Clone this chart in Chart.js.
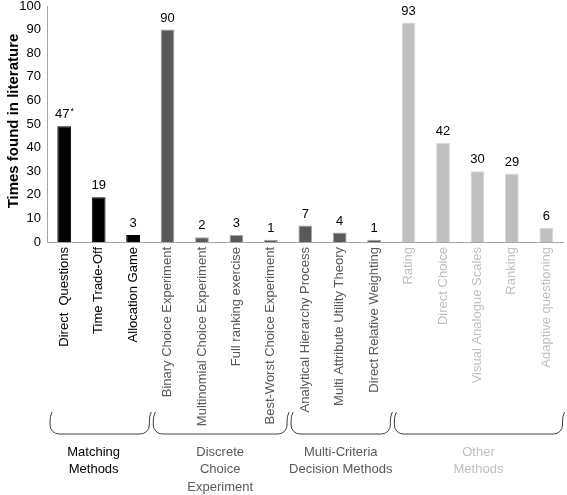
<!DOCTYPE html>
<html>
<head>
<meta charset="utf-8">
<script src="https://cdn.jsdelivr.net/npm/chart.js@4.4.0/dist/chart.umd.min.js"></script>
<style>
  html, body { margin: 0; padding: 0; background: #fff; }
  #wrap { width: 567px; height: 495px; position: relative; }
</style>
</head>
<body>
<div id="wrap"><canvas id="c" width="567" height="495"></canvas></div>
<script>
const categories = [
  "Direct  Questions", "Time Trade-Off", "Allocation Game",
  "Binary Choice Experiment", "Multinomial Choice Experiment", "Full ranking exercise", "Best-Worst Choice Experiment",
  "Analytical Hierarchy Process", "Multi Attribute Utility Theory", "Direct Relative Weighting",
  "Rating", "Direct Choice", "Visual Analogue Scales", "Ranking", "Adaptive questioning"
];
const values = [49, 19, 3, 90, 2, 3, 1, 7, 4, 1, 93, 42, 30, 29, 6];
const valueLabels = ["47*", "19", "3", "90", "2", "3", "1", "7", "4", "1", "93", "42", "30", "29", "6"];
const barGroup = [0, 0, 0, 1, 1, 1, 1, 2, 2, 2, 3, 3, 3, 3, 3];
const yTicks = [0, 10, 20, 30, 40, 50, 60, 70, 80, 90, 100];
const yTitle = "Times found in literature";

const groupNames = [["Matching", "Methods"], ["Discrete", "Choice", "Experiment"], ["Multi-Criteria", "Decision Methods"], ["Other", "Methods"]];
const groupStart = [0, 3, 7, 10];
const groupEnd = [2, 6, 9, 14];
const groupFill = ["#000000", "#595959", "#595959", "#bfbfbf"];
const groupBorder = ["#000000", "#a6a6a6", "#a6a6a6", "#d9d9d9"];
const groupText = ["#000000", "#595959", "#595959", "#bfbfbf"];
const groupLabelShift = [-6, 0, 0, 0];

const FONT = "'Liberation Sans', Arial, sans-serif";

const decorPlugin = {
  id: 'decor',
  afterDatasetsDraw(chart) {
    const ctx = chart.ctx;
    const x = chart.scales.x, y = chart.scales.y;
    const meta = chart.getDatasetMeta(0);
    ctx.save();
    // y-axis title
    ctx.save();
    ctx.translate(14, (y.top + y.bottom) / 2 - 3);
    ctx.rotate(-Math.PI / 2);
    ctx.font = 'bold 15px ' + FONT;
    ctx.fillStyle = '#000';
    ctx.textAlign = 'center';
    ctx.textBaseline = 'middle';
    ctx.fillText(yTitle, 0, 0);
    ctx.restore();
    // value labels
    ctx.fillStyle = '#000';
    ctx.textAlign = 'center';
    ctx.textBaseline = 'bottom';
    meta.data.forEach((bar, i) => {
      const txt = valueLabels[i];
      const top = bar.y - 5;
      if (txt.endsWith('*')) {
        const main = txt.slice(0, -1);
        ctx.font = '13px ' + FONT;
        const w = ctx.measureText(main).width;
        ctx.fillText(main, bar.x - 2, top);
        ctx.font = '9px ' + FONT;
        ctx.textAlign = 'left';
        ctx.fillText('*', bar.x - 2 + w / 2 + 1, top - 5);
        ctx.textAlign = 'center';
      } else {
        ctx.font = '13px ' + FONT;
        ctx.fillText(txt, bar.x, top);
      }
    });
    // brackets + group names
    const half = (x.getPixelForValue(1) - x.getPixelForValue(0)) / 2;
    const topY = 412, botY = 434, r = 9;
    for (let g = 0; g < groupNames.length; g++) {
      const left = x.getPixelForValue(groupStart[g]) - half + 3;
      const right = Math.min(x.getPixelForValue(groupEnd[g]) + half - 1, chart.width - 2);
      ctx.strokeStyle = '#404040';
      ctx.lineWidth = 1;
      ctx.beginPath();
      ctx.moveTo(left + 2, topY);
      ctx.quadraticCurveTo(left, topY + 4, left, topY + 9);
      ctx.lineTo(left, botY - r);
      ctx.arcTo(left, botY, left + r, botY, r);
      ctx.lineTo(right - r, botY);
      ctx.arcTo(right, botY, right, botY - r, r);
      ctx.lineTo(right, topY + 9);
      ctx.quadraticCurveTo(right, topY + 4, right + 2, topY);
      ctx.stroke();
      const cx = (left + right) / 2 + groupLabelShift[g];
      ctx.fillStyle = groupText[g];
      ctx.font = '13px ' + FONT;
      ctx.textAlign = 'center';
      ctx.textBaseline = 'middle';
      groupNames[g].forEach((line, k) => {
        ctx.fillText(line, cx, 452 + k * 17.5);
      });
    }
    ctx.restore();
  }
};

new Chart(document.getElementById('c'), {
  type: 'bar',
  data: {
    labels: categories,
    datasets: [{
      data: values,
      backgroundColor: barGroup.map(g => groupFill[g]),
      borderColor: barGroup.map(g => groupBorder[g]),
      borderWidth: 1,
      barPercentage: 0.4,
      categoryPercentage: 1.0
    }]
  },
  options: {
    responsive: false,
    animation: false,
    devicePixelRatio: 1,
    layout: { padding: { left: 0, right: 2, top: 0, bottom: 0 } },
    plugins: { legend: { display: false }, tooltip: { enabled: false } },
    scales: {
      x: {
        grid: { display: false, drawTicks: false },
        border: { display: true, color: '#a6a6a6', width: 1 },
        ticks: {
          autoSkip: false,
          maxRotation: 90,
          minRotation: 90,
          padding: 5,
          font: { family: FONT, size: 13 },
          color: (c) => groupText[barGroup[c.index]] || '#000'
        },
        afterFit(scale) { scale.height = 495 - 242; }
      },
      y: {
        min: 0,
        max: 100,
        afterBuildTicks(scale) { scale.ticks = yTicks.map(v => ({ value: v })); },
        grid: { display: false, drawTicks: false },
        border: { display: true, color: '#a6a6a6', width: 1 },
        ticks: {
          padding: 6,
          font: { family: FONT, size: 13 },
          color: '#000'
        },
        afterFit(scale) { scale.width = 47; scale.paddingTop = 6; scale.paddingBottom = 0; }
      }
    }
  },
  plugins: [decorPlugin]
});
</script>
</body>
</html>
